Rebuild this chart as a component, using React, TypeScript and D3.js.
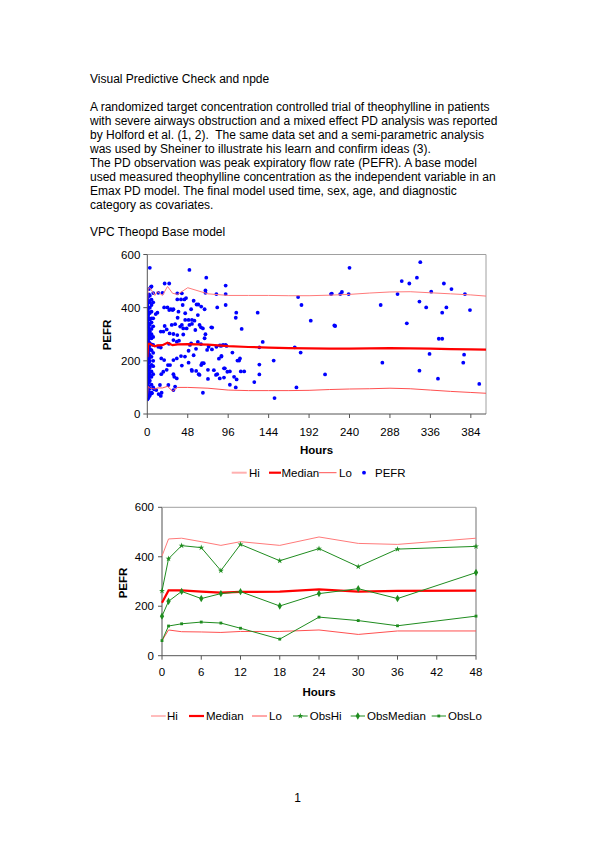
import React from "react";
import * as d3 from "d3";

const FONT = "'Liberation Sans', Arial, sans-serif";

const pageTitle = "Visual Predictive Check and npde";
const introLines = [
  "A randomized target concentration controlled trial of theophylline in patients",
  "with severe airways obstruction and a mixed effect PD analysis was reported",
  "by Holford et al. (1, 2).  The same data set and a semi-parametric analysis",
  "was used by Sheiner to illustrate his learn and confirm ideas (3).",
  "The PD observation was peak expiratory flow rate (PEFR). A base model",
  "used measured theophylline concentration as the independent variable in an",
  "Emax PD model. The final model used time, sex, age, and diagnostic",
  "category as covariates.",
];
const chartTitle = "VPC Theopd Base model";

// simulated percentiles, first 48 h (shared by both charts)
const simHours = [0, 1, 3, 6, 9, 12, 18, 24, 30, 36, 48];
const simHi = [403, 472, 475, 461, 446, 461, 446, 480, 454, 450, 475];
const simMedian = [214, 264, 264, 259, 255, 258, 259, 268, 259, 262, 263];
const simLo = [61, 104, 97, 96, 94, 98, 98, 104, 86, 100, 100];

// simulated percentiles after 48 h (top chart only)
const lateHours = [72, 96, 120, 144, 168, 192, 216, 240, 264, 288, 312, 336, 360, 384, 408];
const lateHi = [452, 446, 446, 446, 445, 445, 447, 450, 455, 459, 460, 456, 452, 448, 442];
const lateMedian = [261, 255, 252, 250, 248, 247, 246, 246, 247, 248, 247, 246, 244, 243, 242];
const lateLo = [97, 90, 88, 88, 88, 89, 92, 94, 95, 97, 95, 90, 85, 81, 77];

// observed percentiles (bottom chart)
const obsHi = [262, 392, 445, 437, 344, 450, 384, 433, 360, 431, 442];
const obsMedian = [160, 220, 260, 231, 251, 259, 201, 251, 271, 231, 336];
const obsLo = [61, 120, 129, 136, 132, 111, 67, 156, 142, 121, 160];

// observed PEFR, early dense columns
const earlyTimes = [0, 0.5, 1, 2, 3, 5, 7];
const earlyPefr = [
  [55, 62, 70, 78, 85, 95, 100, 108, 115, 122, 130, 138, 145, 150, 158, 165, 172, 180, 188, 195, 200, 208, 215, 222, 230, 238, 245, 250, 258, 265, 272, 280, 290, 300, 310, 320, 330, 340, 350, 360, 375, 390, 400, 410, 430, 445],
  [58, 80, 110, 140, 170, 200, 225, 250, 275, 300, 330, 360, 395, 425],
  [60, 75, 90, 105, 118, 130, 142, 155, 168, 180, 192, 205, 218, 230, 242, 255, 268, 280, 295, 310, 325, 340, 355, 370, 385, 400, 420, 440],
  [65, 80, 100, 120, 135, 150, 165, 180, 195, 210, 225, 240, 255, 270, 285, 300, 320, 340, 360, 380, 400, 425, 450, 470],
  [70, 95, 125, 150, 175, 200, 220, 245, 265, 290, 310, 335, 355, 380, 400, 420, 445, 550],
  [80, 110, 140, 160, 185, 215, 240, 262, 285, 300, 320, 345, 360, 385, 410, 430, 480],
  [100, 150, 180, 200, 230, 260, 290, 330, 360, 420, 455],
];

// observed PEFR, remaining points [hours, PEFR]
const laterPefr: [number, number][] = [
  [4, 477], [20.6, 491], [26, 491], [13, 456], [18, 456], [35.6, 454], [41, 454],
  [50, 542], [70, 513], [69, 456], [69, 465], [93, 483], [82, 451], [93, 451],
  [40, 431], [44, 431], [35.6, 431], [46, 436], [55, 426], [58.5, 412], [60.5, 412],
  [64, 404], [42, 410], [20, 401], [24, 401], [28, 394], [31, 394], [52, 394],
  [68, 394], [83, 401], [93, 410], [37, 385], [45, 379], [10, 376], [12, 381],
  [49, 354], [53, 354], [56, 351], [29, 335], [33, 338], [20.6, 331], [23, 318],
  [39, 329], [42.7, 322], [50, 335], [46.7, 322], [63.7, 326], [66, 322], [76, 326],
  [16, 310], [19, 310], [26.5, 303], [31, 301], [35.6, 297], [42.7, 299], [68, 285],
  [31, 278], [35, 272], [37.6, 276], [25.7, 264], [13, 253], [16, 250], [50.6, 260],
  [52, 266], [60, 271], [63.7, 263], [57.8, 245], [49, 238], [72.8, 253], [76.7, 243],
  [82, 253], [86, 258], [88, 257], [94, 256], [71, 241], [55, 221], [44.7, 216],
  [40, 218], [31, 203], [35, 209], [16.6, 209], [20, 203], [24.5, 184], [27, 184],
  [41, 182], [49, 193], [65, 191], [67, 191], [85, 208], [88, 216], [19, 159],
  [16.6, 150], [23, 166], [31, 150], [32, 140], [35, 134], [52.6, 166], [61, 150],
  [58, 162], [64, 184], [72, 166], [91, 172], [95, 159], [81.5, 147], [86, 134],
  [62, 147], [72, 132], [25, 109], [33, 103], [31, 90], [15, 109], [17, 80],
  [10.7, 90], [13.4, 75], [16, 68], [66, 80], [5.5, 78], [8, 93], [26, 391],
  [30, 391], [36, 362], [41, 335], [45, 354], [53, 339], [62, 335], [57, 316],
  [60, 372], [77, 325], [69, 300], [53, 162], [79, 165], [83, 150], [91, 137],
  [92, 172], [88, 219], [87, 257], [90, 260], [93, 260],
  [105.6, 381], [105, 362], [112, 320], [131, 381], [137, 271], [133, 251],
  [101, 231], [107, 201], [110, 209], [109, 201], [98, 160], [111, 160], [115, 160],
  [103, 140], [106, 130], [98, 110], [105, 100], [127, 120], [133, 186], [133, 149],
  [150, 201], [151, 60], [175, 251], [182, 231], [177, 100], [179, 440], [183, 410],
  [194, 351], [211, 149], [219, 453], [223, 331], [231, 459], [229, 451],
  [218, 451], [222, 333], [239, 451], [240, 550], [277, 410], [279, 193],
  [297, 451], [302, 500], [308, 341], [311, 491], [320, 513], [324, 571],
  [323, 423], [323, 163], [331, 401], [335, 226], [337, 460], [345, 133],
  [346, 283], [350, 283], [350, 381], [352, 491], [355, 401], [361, 470],
  [375, 193], [376, 223], [377, 451], [383, 391], [394, 113],
];

const yTicks = [0, 200, 400, 600];
const topXTicks = [0, 48, 96, 144, 192, 240, 288, 336, 384];
const bottomXTicks = [0, 6, 12, 18, 24, 30, 36, 42, 48];

const HI_COLOR = "#ff7a7a";
const LO_COLOR = "#ff5050";
const MED_COLOR = "#ff0000";
const OBS_COLOR = "#1f8c1f";
const AXIS = "#555";
const FRAME = "#a0a0a0";

type Pt = [number, number];

const App: React.FC = () => {
  // top chart
  const x1 = d3.scaleLinear().domain([0, 402]).range([147.3, 486]);
  const y1 = d3.scaleLinear().domain([0, 600]).range([414, 254.5]);
  // bottom chart
  const x2 = d3.scaleLinear().domain([0, 48]).range([162, 476]);
  const y2 = d3.scaleLinear().domain([0, 600]).range([655.7, 507.3]);

  const allHours = simHours.concat(lateHours);
  const zip = (xs: number[], ys: number[]): Pt[] => xs.map((h, i) => [h, ys[i]]);

  const line1 = d3.line<Pt>().x((d) => x1(d[0])).y((d) => y1(d[1]));
  const line2 = d3.line<Pt>().x((d) => x2(d[0])).y((d) => y2(d[1]));

  const scatter: Pt[] = [];
  earlyTimes.forEach((t, i) => earlyPefr[i].forEach((v) => scatter.push([t, v])));
  laterPefr.forEach((p) => scatter.push(p));

  const starPath = d3.symbol().type(d3.symbolStar).size(11)()!;
  const diamondPath = d3.symbol().type(d3.symbolDiamond).size(16)()!;
  const squarePath = d3.symbol().type(d3.symbolSquare).size(8)()!;

  const lbl = { fontFamily: FONT, fontSize: 11.5, fill: "#000" } as const;

  return (
    <svg
      width={595}
      height={842}
      style={{ position: "absolute", left: 0, top: 0, background: "#fff" }}
    >
      <defs>
        <clipPath id="clip1">
          <rect x={147.3} y={250} width={486 - 147.3} height={170} />
        </clipPath>
      </defs>

      {/* page text */}
      <g style={{ fontFamily: FONT, fontSize: 12 }} fill="#000">
        <text x={90} y={83}>{pageTitle}</text>
        {introLines.map((t, i) => (
          <text key={i} x={90} y={110.5 + i * 14.14} style={{ whiteSpace: "pre" }}>
            {t}
          </text>
        ))}
        <text x={90} y={235.5}>{chartTitle}</text>
        <text x={297.5} y={802} textAnchor="middle">1</text>
      </g>

      {/* ---------- top chart ---------- */}
      <line x1={x1(0)} x2={486} y1={y1(600)} y2={y1(600)} stroke={FRAME} />
      <line x1={486} x2={486} y1={y1(600)} y2={y1(0)} stroke={FRAME} />
      <g clipPath="url(#clip1)">
        {scatter.map((d, i) => (
          <circle key={i} cx={x1(d[0])} cy={y1(d[1])} r={1.9} fill="#0000ff" />
        ))}
        <path d={line1(zip(allHours, simHi.concat(lateHi)))!} fill="none" stroke={HI_COLOR} strokeWidth={1} />
        <path d={line1(zip(allHours, simLo.concat(lateLo)))!} fill="none" stroke={LO_COLOR} strokeWidth={1} />
        <path d={line1(zip(allHours, simMedian.concat(lateMedian)))!} fill="none" stroke={MED_COLOR} strokeWidth={2.2} />
      </g>
      <line x1={x1(0)} x2={x1(0)} y1={y1(0)} y2={y1(600)} stroke={AXIS} />
      <line x1={x1(0)} x2={486} y1={y1(0)} y2={y1(0)} stroke={AXIS} />
      {yTicks.map((t) => (
        <g key={t}>
          <line x1={x1(0) - 4} x2={x1(0)} y1={y1(t)} y2={y1(t)} stroke={AXIS} />
          <text {...lbl} x={x1(0) - 7} y={y1(t) + 4} textAnchor="end">{t}</text>
        </g>
      ))}
      {topXTicks.map((t) => (
        <g key={t}>
          <line x1={x1(t)} x2={x1(t)} y1={y1(0)} y2={y1(0) + 4} stroke={AXIS} />
          <text {...lbl} x={x1(t)} y={435.5} textAnchor="middle">{t}</text>
        </g>
      ))}
      <text {...lbl} fontWeight="bold" x={316.5} y={454} textAnchor="middle">Hours</text>
      <text {...lbl} fontWeight="bold" textAnchor="middle" transform={`translate(111,335) rotate(-90)`}>PEFR</text>

      {/* top legend */}
      <g>
        <line x1={231.7} x2={246.7} y1={472.7} y2={472.7} stroke="#ffb0b0" strokeWidth={2} />
        <text {...lbl} x={249} y={476.5}>Hi</text>
        <line x1={269} x2={281} y1={472.7} y2={472.7} stroke={MED_COLOR} strokeWidth={2.2} />
        <text {...lbl} x={281.5} y={476.5}>Median</text>
        <line x1={319} x2={336.5} y1={472.7} y2={472.7} stroke={LO_COLOR} strokeWidth={1} />
        <text {...lbl} x={339} y={476.5}>Lo</text>
        <circle cx={364} cy={472.7} r={1.9} fill="#0000ff" />
        <text {...lbl} x={375} y={476.5}>PEFR</text>
      </g>

      {/* ---------- bottom chart ---------- */}
      <line x1={x2(0)} x2={x2(48)} y1={y2(600)} y2={y2(600)} stroke={FRAME} />
      <line x1={x2(48)} x2={x2(48)} y1={y2(600)} y2={y2(0)} stroke={FRAME} strokeWidth={1.5} />
      <line x1={x2(0)} x2={x2(0)} y1={y2(0)} y2={y2(600)} stroke="#a8a8a8" strokeWidth={2} />
      <line x1={x2(0)} x2={x2(48)} y1={y2(0)} y2={y2(0)} stroke={AXIS} />
      {yTicks.map((t) => (
        <g key={t}>
          <line x1={x2(0) - 4} x2={x2(0)} y1={y2(t)} y2={y2(t)} stroke={AXIS} />
          <text {...lbl} x={x2(0) - 8} y={y2(t) + 4} textAnchor="end">{t}</text>
        </g>
      ))}
      {bottomXTicks.map((t) => (
        <g key={t}>
          <line x1={x2(t)} x2={x2(t)} y1={y2(0)} y2={y2(0) + 4} stroke={AXIS} />
          <text {...lbl} x={x2(t)} y={675.5} textAnchor="middle">{t}</text>
        </g>
      ))}
      <text {...lbl} fontWeight="bold" x={319} y={695.5} textAnchor="middle">Hours</text>
      <text {...lbl} fontWeight="bold" textAnchor="middle" transform={`translate(127,583) rotate(-90)`}>PEFR</text>

      <path d={line2(zip(simHours, simHi))!} fill="none" stroke={HI_COLOR} strokeWidth={1} />
      <path d={line2(zip(simHours, simLo))!} fill="none" stroke={LO_COLOR} strokeWidth={1} />
      <path d={line2(zip(simHours, simMedian))!} fill="none" stroke={MED_COLOR} strokeWidth={2.2} />
      {[
        { vals: obsHi, sym: starPath },
        { vals: obsMedian, sym: diamondPath },
        { vals: obsLo, sym: squarePath },
      ].map((s, k) => (
        <g key={k}>
          <path d={line2(zip(simHours, s.vals))!} fill="none" stroke={OBS_COLOR} strokeWidth={1} />
          {s.vals.map((v, i) => (
            <path key={i} d={s.sym} transform={`translate(${x2(simHours[i])},${y2(v)})`} fill={OBS_COLOR} />
          ))}
        </g>
      ))}

      {/* bottom legend */}
      <g>
        <line x1={151} x2={165.7} y1={716} y2={716} stroke={HI_COLOR} strokeWidth={1} />
        <text {...lbl} x={167} y={720}>Hi</text>
        <line x1={189} x2={204} y1={716} y2={716} stroke={MED_COLOR} strokeWidth={2.2} />
        <text {...lbl} x={206} y={720}>Median</text>
        <line x1={252} x2={267} y1={716} y2={716} stroke={LO_COLOR} strokeWidth={1} />
        <text {...lbl} x={269} y={720}>Lo</text>
        <line x1={293} x2={307.7} y1={716} y2={716} stroke={OBS_COLOR} strokeWidth={1} />
        <path d={starPath} transform="translate(300.3,716)" fill={OBS_COLOR} />
        <text {...lbl} x={309.7} y={720}>ObsHi</text>
        <line x1={350.7} x2={365} y1={716} y2={716} stroke={OBS_COLOR} strokeWidth={1} />
        <path d={diamondPath} transform="translate(357.8,716)" fill={OBS_COLOR} />
        <text {...lbl} x={367} y={720}>ObsMedian</text>
        <line x1={431.7} x2={446} y1={716} y2={716} stroke={OBS_COLOR} strokeWidth={1} />
        <path d={squarePath} transform="translate(438.8,716)" fill={OBS_COLOR} />
        <text {...lbl} x={448} y={720}>ObsLo</text>
      </g>
    </svg>
  );
};

export default App;
